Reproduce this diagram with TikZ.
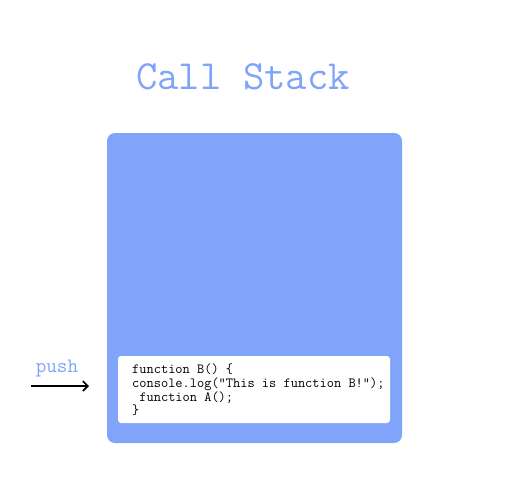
\documentclass[tikz,border=0pt]{standalone}
\usepackage{fontspec}
\usetikzlibrary{positioning, arrows.meta}
\definecolor{stackblue}{RGB}{128,164,250}
\tikzset{
  stackbox/.style = {fill=stackblue, draw=none, rounded corners=8pt},
  framebox/.style = {fill=white, draw=none, rounded corners=3pt},
  codetext/.style = {font=\ttfamily\fontsize{14}{13.6}\selectfont, align=left, anchor=north west, inner sep=0pt},
}
\begin{document}
\begin{tikzpicture}[x=1pt, y=-1pt]
\useasboundingbox (0, 0) rectangle (509, 487);
\node[font=\ttfamily\fontsize{41.5}{41.5}\selectfont, text=stackblue] (title) at (243, 77) {Call Stack};
\draw[stackbox] (107, 133) rectangle (402, 443);
\draw[framebox] (118, 356) rectangle (390, 423);
\node[codetext] (code) at (132, 364) {function B() \{\\console.log(“This is function B!”);\\\ function A();\\\}};
\node[font=\ttfamily\fontsize{20.5}{20.5}\selectfont, text=stackblue] (push) at (57, 369) {push};
\coordinate (from) at (31, 386);
\coordinate (to) at (89, 386);
\draw[-{Straight Barb[length=5pt, width=10pt]}, line width=1.6pt] (from) -- (to);
\end{tikzpicture}
\end{document}
